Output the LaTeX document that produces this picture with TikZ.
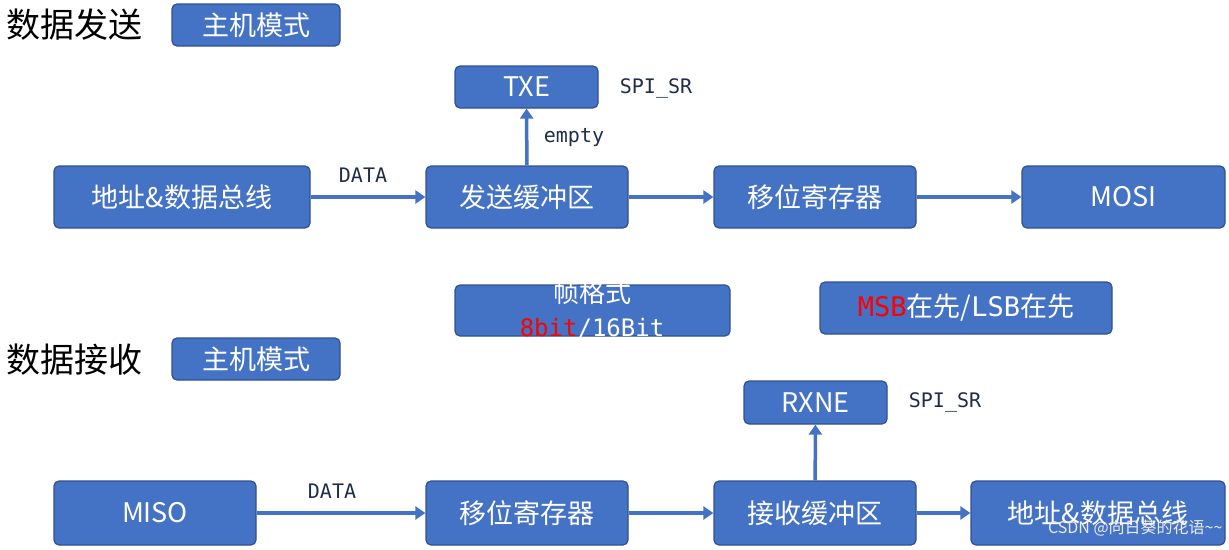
\documentclass[tikz,border=0pt]{standalone}
\usepackage{fontspec}
\setmainfont{Noto Sans CJK SC}
\newfontfamily\mono{DejaVu Sans Mono}
\usetikzlibrary{arrows.meta}
\definecolor{bfill}{HTML}{4472C4}
\definecolor{bdraw}{HTML}{2F528F}
\definecolor{ltxt}{HTML}{1F2D4A}
\begin{document}
\begin{tikzpicture}[x=1pt,y=-1pt,
 box/.style={draw=bdraw,line width=1.2pt,fill=bfill,rounded corners=5pt,text=white,font=\fontsize{27}{30}\selectfont,inner sep=0pt},
 arr/.style={draw=bfill,line width=3.5pt,-{Triangle[length=10pt,width=13pt]}},
 lab/.style={text=ltxt,font=\mono\fontsize{20}{22}\selectfont},
 head/.style={text=black,font=\fontsize{34}{36}\selectfont,anchor=west}]
\useasboundingbox (0,0) rectangle (1229,549);
\def\bx#1#2#3#4#5#6{\node[box,minimum width=#4-#2,minimum height=#5-#3] (#1) at ({(#2+#4)/2},{(#3+#5)/2}) {#6};}
\node[head] (h1) at (3,25) {数据发送};
\bx{m1}{172}{4}{340}{46}{主机模式}
\bx{txe}{455}{66}{598}{108}{TXE}
\bx{a1}{54}{166}{310}{228}{地址\&数据总线}
\bx{s1}{426}{166}{628}{228}{发送缓冲区}
\bx{r1}{714}{166}{916}{228}{移位寄存器}
\bx{mosi}{1022}{166}{1225}{228}{MOSI}
\node[lab] (sr1) at (656,88) {SPI\_SR};
\node[lab] (d1) at (363,175) {DATA};
\node[lab] (em) at (574,138) {empty};
\draw[arr] (a1) -- (s1);
\draw[arr] (s1) -- (r1);
\draw[arr] (r1) -- (mosi);
\draw[arr] (s1) -- (txe);
\bx{fmt}{455}{285}{730}{336}{}
\node[text=white,font=\fontsize{26}{28}\selectfont] (ft) at (592,293) {帧格式};
\node[text=white,font=\mono\fontsize{24}{26}\selectfont] (fb) at (592,328) {\textcolor{red}{8bit}/16Bit};
\bx{msb}{820}{282}{1112}{334}{\textcolor{red}{\mono MSB}在先/{\mono LSB}在先}
\node[head] (h2) at (3,360) {数据接收};
\bx{m2}{172}{338}{340}{380}{主机模式}
\bx{rxne}{744}{381}{887}{424}{RXNE}
\node[lab] (sr2) at (945,402) {SPI\_SR};
\bx{miso}{54}{481}{256}{545}{MISO}
\bx{r2}{426}{481}{628}{545}{移位寄存器}
\bx{s2}{714}{481}{916}{545}{接收缓冲区}
\bx{a2}{971}{481}{1225}{545}{地址\&数据总线}
\node[lab] (d2) at (332,491) {DATA};
\draw[arr] (miso) -- (r2);
\draw[arr] (r2) -- (s2);
\draw[arr] (s2) -- (a2);
\draw[arr] (s2) -- (rxne);
\node[text=white!85!gray,font=\fontsize{16}{18}\selectfont,anchor=east] (wm) at (1226,528) {CSDN @向日葵的花语\textasciitilde\textasciitilde};
\end{tikzpicture}
\end{document}
